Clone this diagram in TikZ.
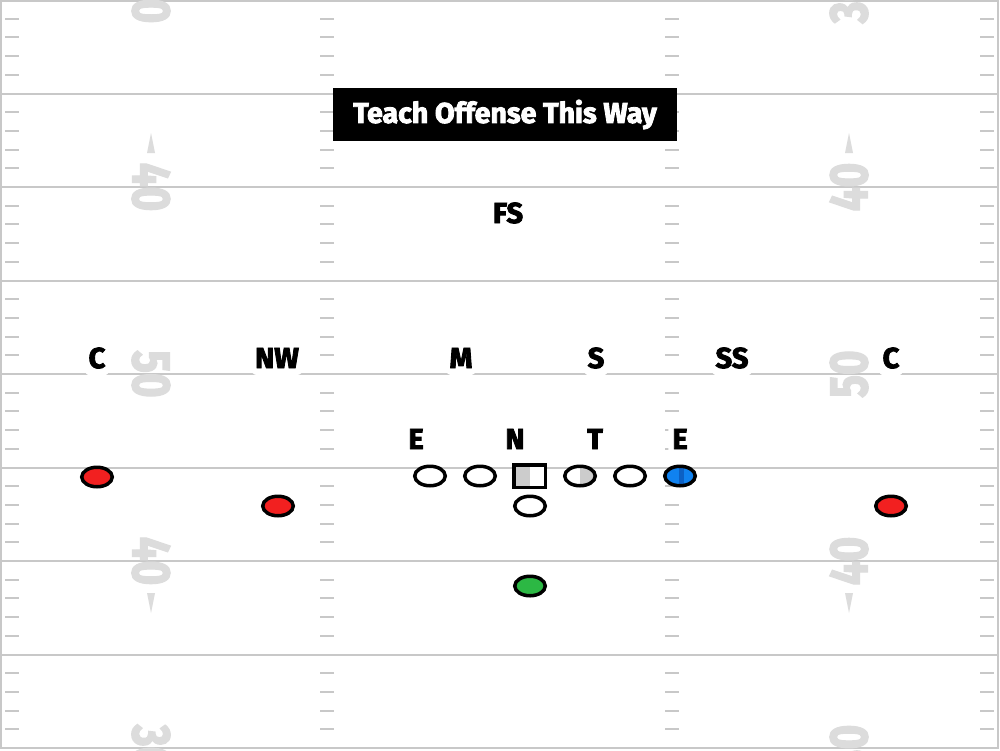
\documentclass[tikz,border=0pt]{standalone}
\usepackage{fontspec}
\setmainfont{Fira Sans}
\newfontfamily\heavyfont{Fira Sans}[BoldFeatures={FakeBold=3}]
\usepackage{tikz}
\usetikzlibrary{shapes.geometric}

\definecolor{fieldline}{RGB}{200,200,200}
\definecolor{numgray}{RGB}{220,220,220}
\definecolor{wrred}{RGB}{242,32,32}
\definecolor{rbgreen}{RGB}{44,184,68}
\definecolor{teblue}{RGB}{16,130,240}
\definecolor{tedark}{RGB}{12,96,196}
\definecolor{halfgray}{RGB}{204,204,204}

\tikzset{
  yardline/.style={draw=fieldline, line width=2pt},
  hashmark/.style={draw=fieldline, line width=2pt},
  yardnum/.style={text=numgray, inner sep=0pt, font=\heavyfont\bfseries\fontsize{54}{54}\selectfont},
  yardarrow/.style={fill=numgray, draw=none},
  player/.style={ellipse, draw=black, line width=3.5pt, fill=white, minimum width=30.5pt, minimum height=19.5pt, inner sep=0pt},
  snapbox/.style={rectangle, draw=black, line width=3.5pt, fill=white, minimum width=31.5pt, minimum height=22.5pt, inner sep=0pt},
  poslabel/.style={fill=white, rounded corners=6pt, inner xsep=4pt, inner ysep=7pt, font=\heavyfont\bfseries\fontsize{29}{29}\selectfont},
}

\begin{document}
\begin{tikzpicture}[x=1pt, y=-1pt]

\useasboundingbox (0,0) rectangle (1000,750);
\clip (0,0) rectangle (1000,750);
\fill[white] (0,0) rectangle (1000,750);

\foreach \k in {1,...,7}
	\draw[yardline] (1,\k*93.5) -- (998,\k*93.5);
\draw[yardline] (1,1) rectangle (998,748);

\foreach \k in {0,...,7}
	\foreach \m in {1,...,4}
		\foreach \hx in {5,320,665,980}
			\draw[hashmark] (\hx,\k*93.5+\m*18.7) -- ++(14,0);

% yard numbers
\node[yardnum, rotate=-90] (numla) at (151,0) {\scalebox{0.78}[1]{30}};
\node[yardnum, rotate=-90] (numlb) at (151,187) {\scalebox{0.78}[1]{40}};
\node[yardnum, rotate=-90] (numlc) at (151,374) {\scalebox{0.78}[1]{50}};
\node[yardnum, rotate=-90] (numld) at (151,561) {\scalebox{0.78}[1]{40}};
\node[yardnum, rotate=-90] (numle) at (151,748) {\scalebox{0.78}[1]{30}};
\node[yardnum, rotate=90] (numra) at (849,0) {\scalebox{0.78}[1]{30}};
\node[yardnum, rotate=90] (numrb) at (849,187) {\scalebox{0.78}[1]{40}};
\node[yardnum, rotate=90] (numrc) at (849,374) {\scalebox{0.78}[1]{50}};
\node[yardnum, rotate=90] (numrd) at (849,561) {\scalebox{0.78}[1]{40}};
\node[yardnum, rotate=90] (numre) at (849,748) {\scalebox{0.78}[1]{30}};

\foreach \ax in {151,849} {
	\fill[yardarrow] (\ax,133) -- (\ax-4,153) -- (\ax+4,153) -- cycle;
	\fill[yardarrow] (\ax,613) -- (\ax-4,593) -- (\ax+4,593) -- cycle;
}

\node[fill=black, text=white, minimum width=344pt, minimum height=53pt, inner sep=0pt,
	font=\heavyfont\bfseries\fontsize{28.5}{28.5}\selectfont] (title) at (505,114.5) {Teach Offense This Way};

% defense
\node[poslabel] (fs) at (508,213) {FS};
\node[poslabel] (cl) at (97,358) {C};
\node[poslabel] (nw) at (277,358) {NW};
\node[poslabel] (mike) at (461,358) {M};
\node[poslabel] (sam) at (596,358) {S};
\node[poslabel] (ss) at (732,358) {SS};
\node[poslabel] (cr) at (891,358) {C};
\node[poslabel] (el) at (416,439) {E};
\node[poslabel] (nose) at (515,439) {N};
\node[poslabel] (tack) at (595,439) {T};
\node[poslabel] (er) at (680,439) {E};

% offense
\node[player] (lt) at (430,476) {};
\node[player] (lg) at (480,476) {};
\node[snapbox, path picture={\fill[halfgray] (path picture bounding box.south west) rectangle (path picture bounding box.north);}] (snap) at (529.5,476) {};
\node[player, path picture={\fill[halfgray] (path picture bounding box.south) rectangle (path picture bounding box.north east);}] (rg) at (580,476) {};
\node[player] (rt) at (630,476) {};
\node[player, fill=teblue, path picture={\fill[tedark] ([xshift=-1pt]path picture bounding box.south) rectangle ([xshift=4pt]path picture bounding box.north);}] (te) at (680,476) {};
\node[player] (qb) at (530,506) {};
\node[player, fill=rbgreen] (rb) at (530,586) {};
\node[player, fill=wrred] (wrl) at (97,477) {};
\node[player, fill=wrred] (slot) at (278,506) {};
\node[player, fill=wrred] (wrr) at (891,506) {};

\end{tikzpicture}
\end{document}
